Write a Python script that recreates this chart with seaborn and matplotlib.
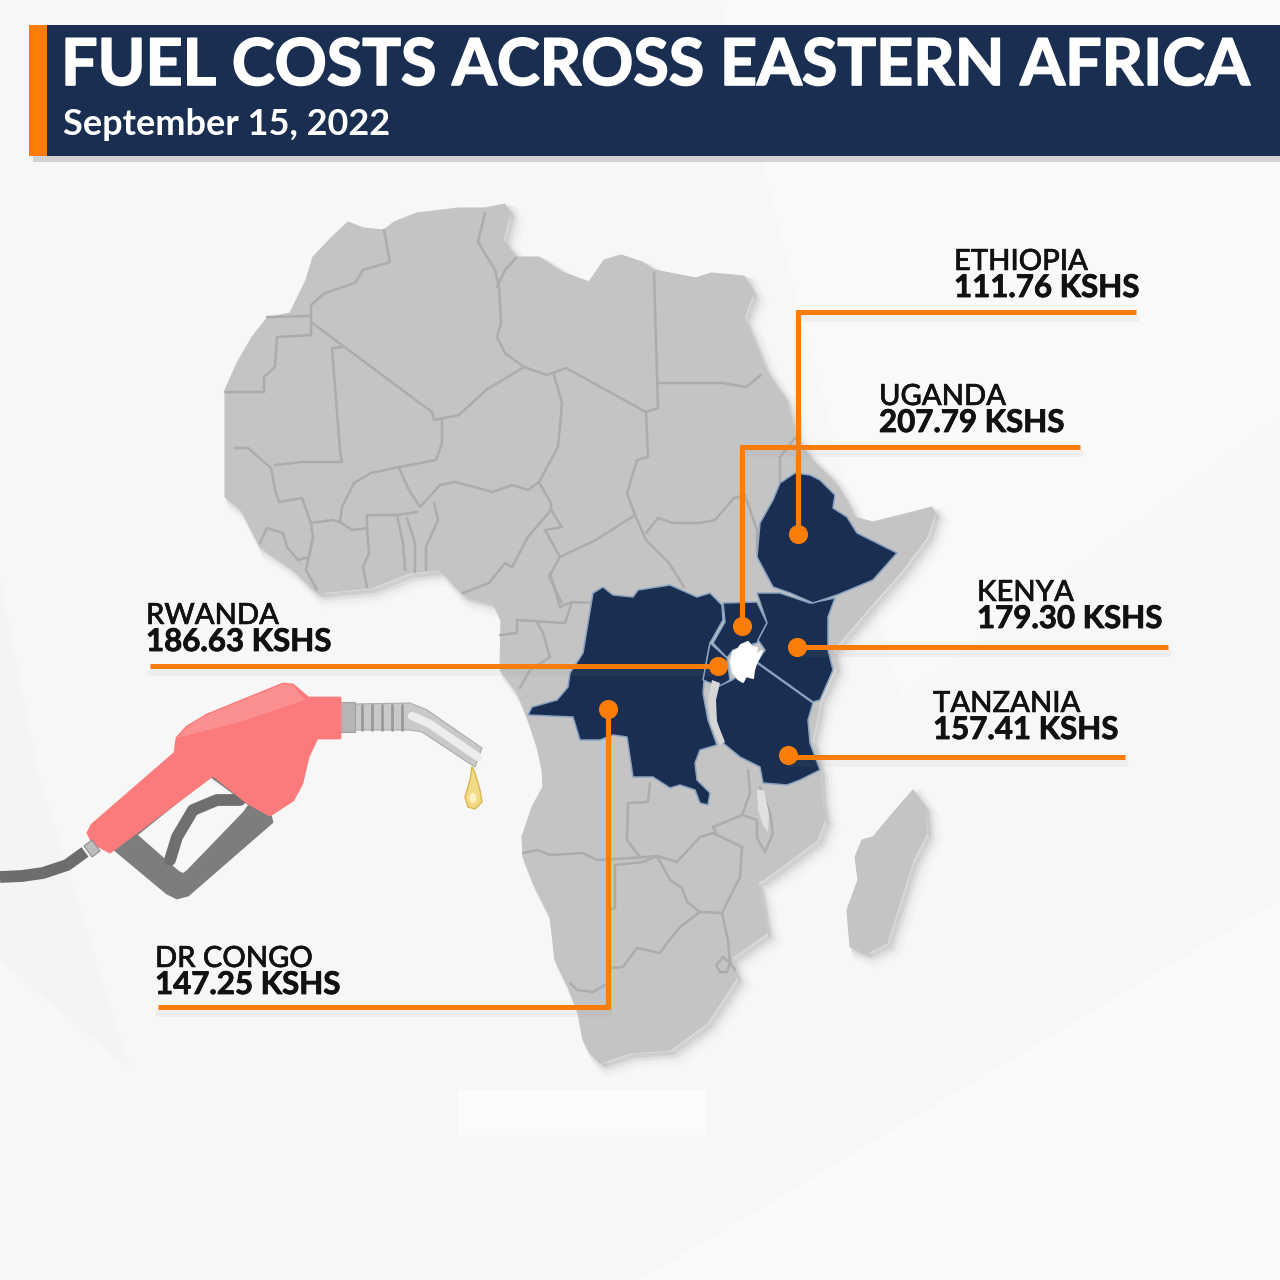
import matplotlib
matplotlib.use("Agg")
import matplotlib.pyplot as plt
import matplotlib.patheffects as pe
from matplotlib.patches import Polygon, Rectangle, Ellipse
import numpy as np
import pandas as pd
import seaborn as sns

countries = ["ETHIOPIA", "UGANDA", "KENYA", "TANZANIA", "RWANDA", "DR CONGO"]
prices = ["111.76", "207.79", "179.30", "157.41", "186.63", "147.25"]
dot_x = [798, 742, 797, 788, 718, 608]
dot_y = [534, 626, 647, 755, 666, 709]
label_x = [954, 879, 977, 933, 146, 155]
label_y = [260, 395, 591, 702, 614, 957]
leader_x = [[798, 798, 1136], [742, 742, 1080], [797, 1168], [788, 1125], [718, 150], [608, 608, 158]]
leader_y = [[534, 312, 312], [626, 447, 447], [647, 647], [757, 757], [666, 666], [709, 1007, 1007]]

africa = [(225,390),(237,363),(252,337),(267,318),(290,313),(306,280),(313,257),(332,237),(348,222),(363,228),
          (384,230),(394,222),(417,213),(459,208),(485,208),(505,204),(510,213),(503,240),(516,257),(539,257),
          (562,272),(589,282),(604,260),(621,255),(642,262),(654,270),(696,278),(711,273),(744,276),(753,293),
          (744,318),(765,370),(784,397),(795,437),(812,460),(833,480),(847,503),(853,517),(873,522),(913,512),
          (932,507),(935,513),(927,537),(900,573),(867,610),(833,650),(835,667),(820,700),(817,717),(812,740),
          (820,770),(822,800),(825,820),(817,840),(793,858),(763,880),(758,882),(762,903),(767,933),(733,957),
          (733,967),(737,977),(727,993),(707,1023),(670,1050),(630,1053),(600,1063),(590,1053),(583,1040),(578,1013),
          (568,987),(555,960),(550,917),(533,883),(523,857),(522,837),(532,807),(543,787),(542,770),(537,747),
          (527,717),(517,693),(500,670),(501,620),(493,603),(463,595),(440,570),(409,573),(371,588),(317,593),
          (290,567),(260,547),(241,510),(225,497),(225,450)]
madagascar = [(913,790),(925,807),(927,833),(913,860),(887,943),(867,953),(850,947),(847,910),(858,880),(855,857),
              (862,840),(873,837),(893,813)]

drc = [(528,715),(532,707),(557,700),(568,687),(570,673),(583,653),(588,623),(593,593),(603,587),(613,595),
       (633,597),(638,590),(670,585),(697,597),(710,593),(722,605),(723,620),(710,643),(705,670),(703,693),
       (708,720),(717,745),(700,750),(695,763),(697,780),(710,793),(708,805),(700,803),(695,790),(680,785),
       (670,788),(653,777),(633,777),(627,737),(613,735),(600,740),(580,740),(573,717)]
uganda = [(723,603),(757,602),(767,623),(757,643),(733,650),(727,658),(713,643),(725,622)]
rwanda_burundi = [(710,643),(727,658),(730,680),(720,687),(703,680)]
tanzania = [(732,680),(757,663),(813,703),(808,720),(810,743),(820,770),(800,780),(787,785),(763,783),(760,767),
            (740,757),(723,743),(712,707),(717,687)]
kenya = [(757,593),(780,593),(810,603),(835,598),(828,617),(828,650),(833,670),(820,700),(813,702),(757,662),
         (765,650),(758,640),(767,623)]
ethiopia = [(795,473),(810,475),(820,480),(835,495),(833,508),(847,517),(857,533),(897,553),(873,580),(837,595),
            (813,603),(790,593),(773,587),(757,557),(760,523),(773,500),(780,483)]
lake_victoria = [(733,652),(738,649),(741,645),(748,642),(752,647),(757,648),(756,655),(762,651),(756,664),(754,670),
                 (753,678),(746,676),(743,682),(738,679),(733,672),(731,662)]
lake_tanganyika = [(712,680),(708,700),(711,725),(720,745),(725,742),(717,722),(716,700),(720,683)]
lake_malawi = [(757,790),(764,790),(769,815),(768,832),(763,825),(758,810)]

borders = [
    [(384,230),(390,262),(363,270),(355,283),(325,293),(311,305),(311,335),(277,337),(275,367),(264,377),(264,392),(225,392)],
    [(267,317),(311,316)],
    [(311,322),(409,395),(432,412),(434,420),(459,415),(486,390),(524,367),(547,375),(566,368),(646,412)],
    [(344,347),(332,348),(340,450),(342,462),(302,462),(275,465)],
    [(235,448),(248,448),(271,468),(275,490),(279,502),(302,498),(311,523),(332,520),(340,522),(342,507),(354,483),
     (371,473),(399,467),(436,460),(442,443),(442,420)],
    [(399,468),(409,490),(420,507),(440,485),(455,482),(493,492),(512,485),(528,490),(539,482),(558,447),(562,403),(554,375)],
    [(539,482),(551,503),(551,510),(562,527),(545,530),(560,557),(596,540),(635,515),(627,493),(637,460),(648,457),(646,412),(658,408),(654,273)],
    [(658,383),(723,383),(746,387),(761,375)],
    [(485,213),(478,242),(495,270),(499,287),(501,323),(497,337),(505,353),(524,367)],
    [(516,258),(505,270),(497,287)],
    [(560,557),(549,577),(562,603)],
    [(551,510),(528,537),(512,567),(505,563),(489,583),(463,593)],
    [(635,515),(646,540),(669,563),(684,587)],
    [(646,533),(658,518),(673,523),(700,523),(715,520),(734,498),(745,495),(757,530),(757,553)],
    [(780,483),(780,457),(795,438)],
    [(311,523),(313,537),(309,557),(298,560),(287,547),(283,533),(267,528),(260,543)],
    [(340,522),(352,530),(367,528),(367,515),(397,515),(417,512)],
    [(367,528),(369,553),(363,567),(367,587)],
    [(397,515),(403,543),(405,570)],
    [(407,518),(415,543),(415,572)],
    [(434,503),(438,520),(426,547),(426,570)],
    [(313,537),(306,570),(317,590)],
    [(593,603),(572,602),(565,623),(517,620),(517,633),(500,635)],
    [(537,622),(543,633),(550,657),(530,670),(520,688)],
    [(550,573),(560,607),(572,602)],
    [(650,783),(648,802),(628,803),(627,840),(640,857)],
    [(523,853),(537,850),(550,855),(583,853),(597,860),(633,858),(657,856)],
    [(615,865),(615,908),(610,910)],
    [(615,865),(643,862),(657,856),(670,880),(682,888),(687,902),(700,912),(680,927),(667,943),(660,953),(637,948),(623,967),(610,968)],
    [(570,983),(577,990),(593,992),(605,985)],
    [(657,856),(677,862),(700,837),(713,833),(742,847),(740,877),(722,913),(700,912)],
    [(713,827),(742,815),(750,793),(748,770)],
    [(713,827),(717,835)],
    [(742,815),(757,820),(757,838),(765,852),(773,833),(770,813),(760,787)],
    [(722,913),(728,940),(730,963),(735,970)],
    [(723,957),(730,963),(727,972),(720,972),(716,965),(723,957)],
]

# pump nozzle
nozzle_red = [(88,833),(92,825),(175,753),(177,738),(187,727),(207,715),(283,684),(293,685),(308,698),(340,698),
              (340,738),(317,738),(308,757),(302,783),(293,800),(270,815),(248,803),(213,775),(110,852),(93,843)]
nozzle_grip = [(113,848),(210,773),(270,815),(272,822),(188,895),(177,898),(167,893)]
nozzle_gap = [(138,835),(210,777),(248,805),(243,812),(187,870),(183,873),(179,871)]
trigger_x = [170, 177, 193, 217, 240]
trigger_y = [860, 837, 810, 800, 800]
hose_x = [0, 22, 43, 67, 85]
hose_y = [877, 876, 873, 865, 852]
spout = [(355,704),(410,703),(427,710),(482,748),(475,767),(422,732),(410,730),(355,730)]
rib_x = [362, 372, 382, 392, 402]
drop = [(472,767),(470,780),(465,797),(468,807),(475,809),(482,802),(480,790),(475,773)]

BG = "#f7f7f7"
NAVY = "#192e50"
ORANGE = "#fb7d07"
LAND = "#c4c4c4"
EDGE = "#acacac"

sns.set_theme(style="white")
plt.rcParams["font.family"] = ["Lato", "DejaVu Sans"]

fig = plt.figure(figsize=(12.8, 12.8), dpi=100, facecolor=BG)
ax = fig.add_axes([0, 0, 1, 1])
ax.set_xlim(0, 1280)
ax.set_ylim(1280, 0)
ax.axis("off")

# faint background shards
ax.add_patch(Polygon([(720,0),(1280,0),(1280,420),(900,700)], fc="#f9f9f9", ec="none", zorder=0))
ax.add_patch(Polygon([(0,580),(40,780),(130,1070),(0,960)], fc="#f4f4f4", ec="none", zorder=0))
ax.add_patch(Polygon([(640,1280),(1280,900),(1280,1280)], fc="#fafafa", ec="none", zorder=0))
ax.add_patch(Rectangle((458,1090), 248, 45, fc="#fbfbfb", ec="none", zorder=0))

def shifted(pts, dx, dy):
    return [(x + dx, y + dy) for x, y in pts]

# soft map shadow, then land
for off, a in [(9, 0.025), (7, 0.04), (5, 0.06), (3, 0.09)]:
    for shape in (africa, madagascar):
        ax.add_patch(Polygon(shifted(shape, off, off), fc="#777777", ec="#777777", lw=off, alpha=a, zorder=1))
for shape in (africa, madagascar):
    ax.add_patch(Polygon(shape, fc=LAND, ec=LAND, lw=0.8, joinstyle="round", zorder=2))
for line in borders:
    bx, by = zip(*line)
    ax.plot(bx, by, color=EDGE, lw=1.8, solid_joinstyle="round", zorder=3)

# highlighted countries
for shape in (drc, uganda, rwanda_burundi, tanzania, kenya, ethiopia):
    ax.add_patch(Polygon(shape, fc=NAVY, ec="#8aa3c0", lw=1.1, joinstyle="round", zorder=4))
ax.add_patch(Polygon(lake_victoria, fc="white", ec="white", lw=1.5, joinstyle="round", zorder=5))
ax.add_patch(Polygon(lake_tanganyika, fc="#d6d6d6", ec="none", zorder=5))
ax.add_patch(Polygon(lake_malawi, fc="#e0e0e0", ec="none", zorder=5))

# nozzle
ax.plot(hose_x, hose_y, color="#6d6d6d", lw=8.5, solid_capstyle="butt", solid_joinstyle="round", zorder=6)
ax.add_patch(Polygon(nozzle_grip, fc="#7d7d7d", ec="#7d7d7d", lw=2, joinstyle="round", zorder=6))
ax.add_patch(Polygon(nozzle_gap, fc=BG, ec="none", zorder=7))
ax.plot(trigger_x, trigger_y, color="#6f6f6f", lw=8.5, solid_capstyle="round", solid_joinstyle="round", zorder=8)
ax.add_patch(Polygon(spout, fc="#c9c9c9", ec="#ababab", lw=0.8, joinstyle="round", zorder=6))
ax.plot([412, 430, 478], [716, 724, 757], color="#ededed", lw=6, zorder=7)
ax.add_patch(Rectangle((340, 702), 15, 30, fc="#b5b5b5", ec="#a0a0a0", lw=0.8, zorder=8))
for rx in rib_x:
    ax.plot([rx, rx], [705, 730], color="#9a9a9a", lw=2, zorder=8)
ax.add_patch(Polygon(nozzle_red, fc="#fb7a7c", ec="#fb7a7c", lw=2, joinstyle="round", zorder=9))
ax.add_patch(Polygon([(177,738),(187,727),(207,715),(283,684),(293,685),(305,700),(240,722)], fc="#fc8f8f", ec="none", zorder=10))
ax.add_patch(Polygon([(84,846),(92,840),(100,851),(92,857)], fc="#bdbdbd", ec="#8f8f8f", lw=0.8, zorder=10))
ax.add_patch(Polygon(drop, fc="#f3db86", ec="#d9b34f", lw=1, joinstyle="round", zorder=8))
ax.add_patch(Ellipse((473, 798), 7, 10, fc="#fbf1c2", ec="none", zorder=9))

# header bar
ax.add_patch(Rectangle((33, 156), 1247, 6, fc="#9a9a9a", ec="none", alpha=0.4, zorder=11))
ax.add_patch(Rectangle((47, 25), 1233, 131, fc=NAVY, ec="none", zorder=12))
ax.add_patch(Rectangle((29, 25), 18, 131, fc=ORANGE, ec="none", zorder=12))
ax.text(61, 85, "FUEL COSTS ACROSS EASTERN AFRICA", color="white", fontsize=46.5, fontweight="bold",
        ha="left", va="baseline", zorder=13,
        path_effects=[pe.withStroke(linewidth=1.2, foreground="white")])
ax.text(63, 135, "September 15, 2022", color="white", fontsize=26, fontweight="bold",
        ha="left", va="baseline", zorder=13)

# leader lines with a faint shadow
for lx, ly in zip(leader_x, leader_y):
    ax.plot(lx, np.array(ly) + 6, color="#888888", lw=5, alpha=0.08, zorder=14)
    ax.plot(lx, ly, color=ORANGE, lw=3.6, solid_capstyle="butt", solid_joinstyle="miter", zorder=15)

dots = pd.DataFrame({"x": dot_x, "y": dot_y, "country": countries})
sns.scatterplot(data=dots, x="x", y="y", color=ORANGE, s=190, linewidth=0, zorder=16, ax=ax, legend=False)
ax.set_xlim(0, 1280)
ax.set_ylim(1280, 0)
ax.axis("off")

for name, price, x, y in zip(countries, prices, label_x, label_y):
    ax.text(x, y + 10, name, color="#111111", fontsize=21, fontweight="medium", ha="left", va="baseline", zorder=17,
            path_effects=[pe.withStroke(linewidth=0.4, foreground="#111111")])
    ax.text(x, y + 37, f"{price} KSHS", color="#111111", fontsize=22.5, fontweight="bold", ha="left", va="baseline", zorder=17,
            path_effects=[pe.withStroke(linewidth=0.6, foreground="#111111")])

fig.savefig("out.png", dpi=100, facecolor=BG)
